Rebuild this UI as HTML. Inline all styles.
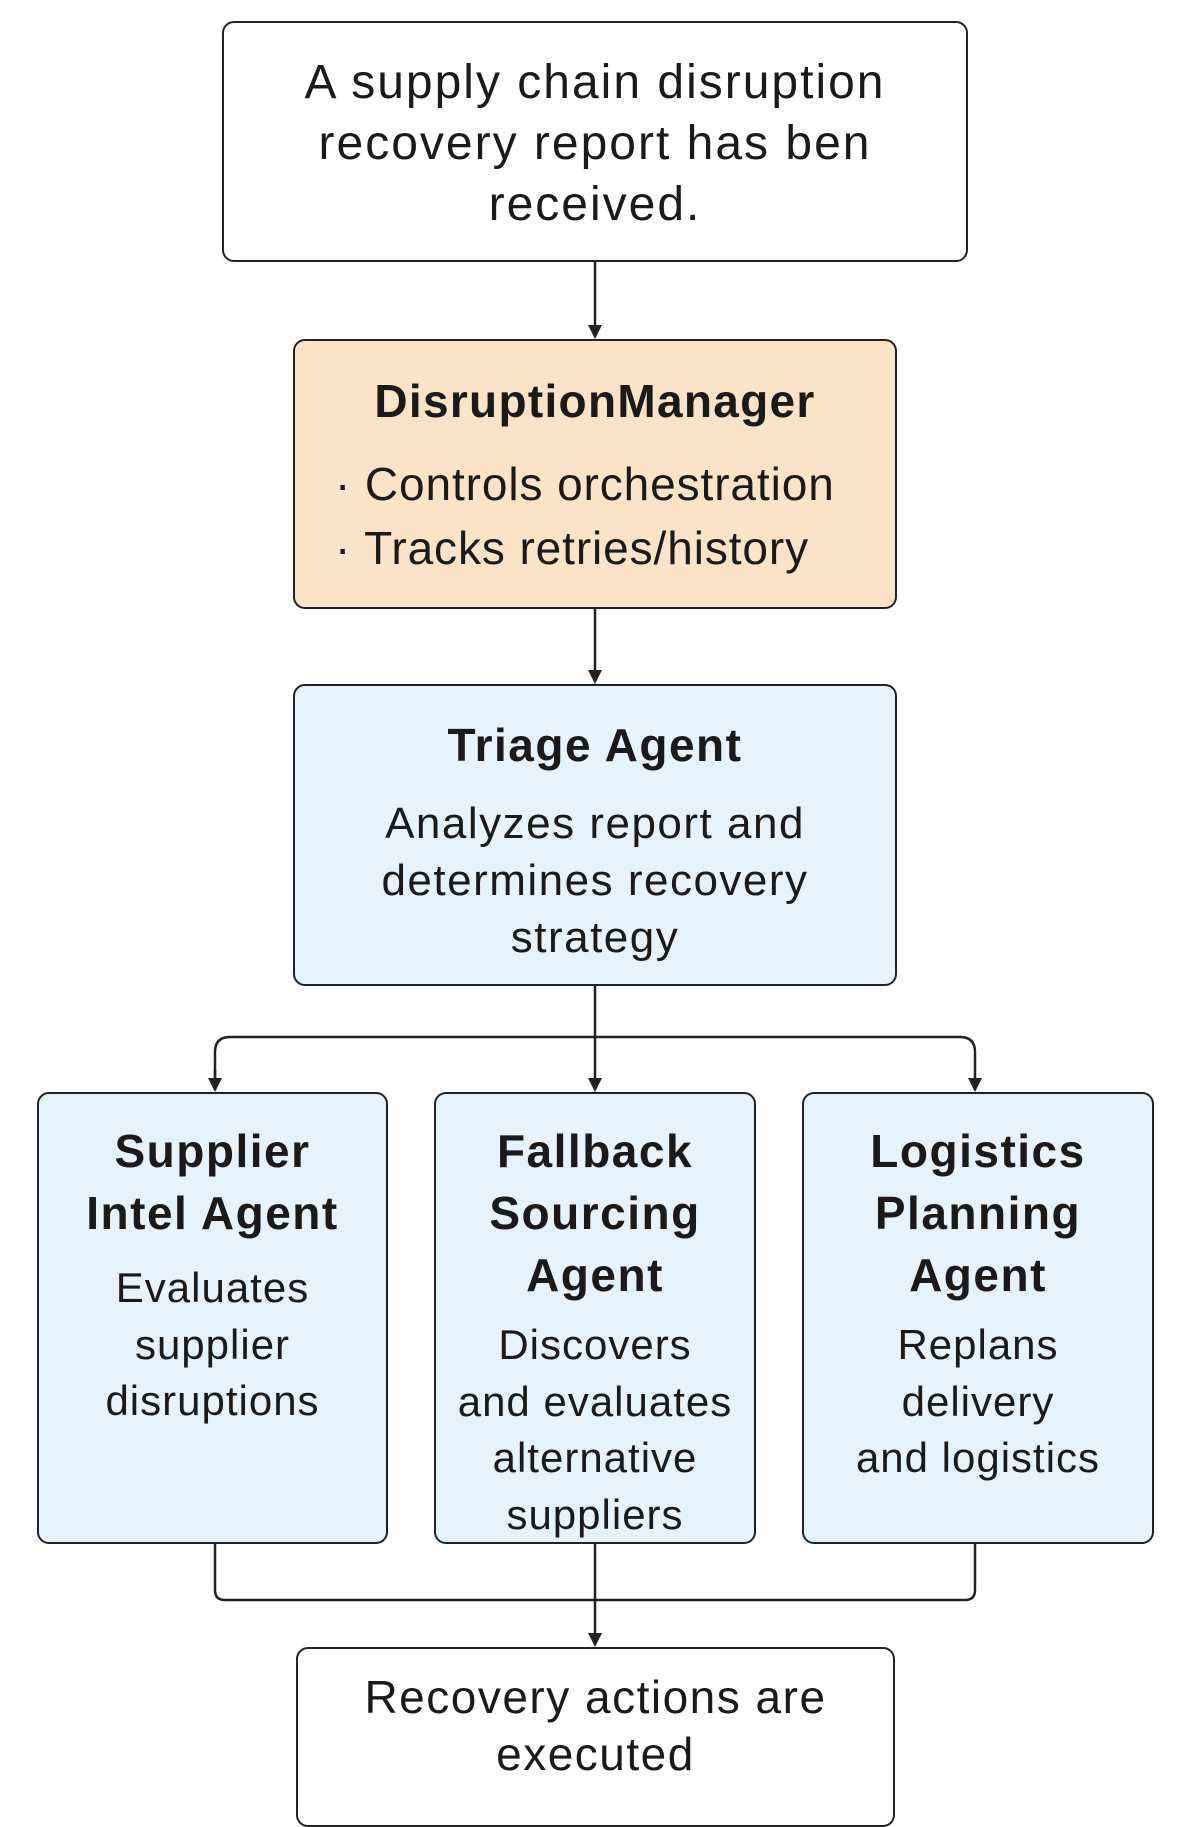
<!DOCTYPE html>
<html><head><meta charset="utf-8"><style>
body{margin:0;width:1180px;height:1798px;background:#fff;position:relative;overflow:hidden;font-family:"Liberation Sans","DejaVu Sans",sans-serif;color:#1a1a1a}
.b{position:absolute;box-sizing:border-box;border:2.5px solid #222;border-radius:12px;text-align:center}
.t{position:absolute;left:0;right:0;text-align:center;white-space:nowrap}
.h{font-weight:bold}
</style></head><body>
<svg width="1180" height="1798" style="position:absolute;left:0;top:0" fill="none" stroke="#222" stroke-width="2.5">
<defs><marker id="a" markerWidth="14" markerHeight="14" refX="12" refY="7" orient="auto" markerUnits="userSpaceOnUse"><path d="M0,0 L14,7 L0,14 z" fill="#222" stroke="none"/></marker></defs>
<line x1="595" y1="262" x2="595" y2="337" marker-end="url(#a)"/>
<line x1="595" y1="609" x2="595" y2="682" marker-end="url(#a)"/>
<path d="M595 986 V1037"/>
<path d="M215 1090 V1052 Q215 1037 230 1037 H960 Q975 1037 975 1052 V1090" marker-end="url(#a)"/>
<path d="M215 1070 V1090" marker-end="url(#a)"/>
<line x1="595" y1="1037" x2="595" y2="1090" marker-end="url(#a)"/>
<path d="M215 1544 V1590 Q215 1600 225 1600 H965 Q975 1600 975 1590 V1544"/>
<line x1="595" y1="1544" x2="595" y2="1645" marker-end="url(#a)"/>
</svg>
<div class="b" style="left:222px;top:21px;width:746px;height:241px"></div>
<div class="t" style="left:222px;width:746px;top:52px;font-size:48px;letter-spacing:2px;line-height:61px">A supply chain disruption<br>recovery report has ben<br>received.</div>
<div class="b" style="left:293px;top:339px;width:604px;height:270px;background:#fbe3c8"></div>
<div class="t h" style="left:293px;width:604px;top:372px;font-size:46px;letter-spacing:1.3px;line-height:58px">DisruptionManager</div>
<div class="t" style="left:335px;width:560px;text-align:left;top:452px;font-size:46px;letter-spacing:0.9px;line-height:64px">· Controls orchestration<br>· Tracks retries/history</div>
<div class="b" style="left:293px;top:684px;width:604px;height:302px;background:#e6f2fc"></div>
<div class="t h" style="left:293px;width:604px;top:716px;font-size:46px;letter-spacing:1.5px;line-height:58px">Triage Agent</div>
<div class="t" style="left:293px;width:604px;top:795px;font-size:44px;letter-spacing:1.5px;line-height:57px">Analyzes report and<br>determines recovery<br>strategy</div>
<div class="b" style="left:37px;top:1092px;width:351px;height:452px;background:#e6f2fc"></div>
<div class="t h" style="left:37px;width:351px;top:1120px;font-size:46px;letter-spacing:1.5px;line-height:62px">Supplier<br>Intel Agent</div>
<div class="t" style="left:37px;width:351px;top:1260px;font-size:42px;letter-spacing:1px;line-height:56.5px">Evaluates<br>supplier<br>disruptions</div>
<div class="b" style="left:434px;top:1092px;width:322px;height:452px;background:#e6f2fc"></div>
<div class="t h" style="left:434px;width:322px;top:1120px;font-size:46px;letter-spacing:1.5px;line-height:62px">Fallback<br>Sourcing<br>Agent</div>
<div class="t" style="left:434px;width:322px;top:1317px;font-size:42px;letter-spacing:1px;line-height:56.5px">Discovers<br>and evaluates<br>alternative<br>suppliers</div>
<div class="b" style="left:802px;top:1092px;width:352px;height:452px;background:#e6f2fc"></div>
<div class="t h" style="left:802px;width:352px;top:1120px;font-size:46px;letter-spacing:1.5px;line-height:62px">Logistics<br>Planning<br>Agent</div>
<div class="t" style="left:802px;width:352px;top:1317px;font-size:42px;letter-spacing:1px;line-height:56.5px">Replans<br>delivery<br>and logistics</div>
<div class="b" style="left:296px;top:1647px;width:599px;height:180px"></div>
<div class="t" style="left:296px;width:599px;top:1669px;font-size:46px;letter-spacing:1.5px;line-height:57px">Recovery actions are<br>executed</div>
</body></html>
